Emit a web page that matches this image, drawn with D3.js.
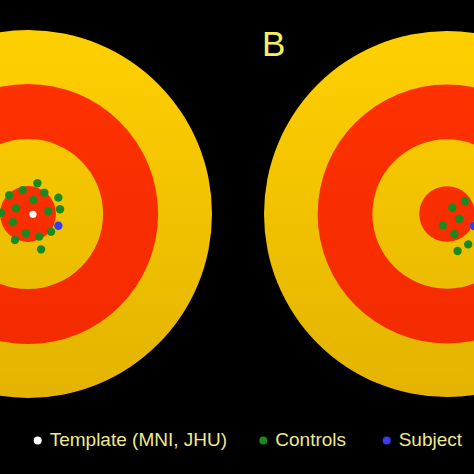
<!DOCTYPE html>
<html>
<head>
<meta charset="utf-8">
<script src="https://cdn.jsdelivr.net/npm/d3@7"></script>
<style>
  html, body { margin: 0; padding: 0; background: #000; }
  svg { display: block; }
</style>
</head>
<body>
<div id="chart"></div>
<script>
// Ring radii in target units (outer edge = 10), drawn outermost first
const ringRadii = [10, 7.07, 4.08, 1.52];
const ringColors = ['yellow', 'red', 'yellow', 'red'];

// Left target: offsets from the centre, target units (y up)
const leftControlsX = [0.51, -1.02, -0.29, 0.89, 1.65, 0.29, -0.65, 1.10, 1.74, -1.47, -0.83, -0.11, 0.61, 1.25, -0.71, 0.71];
const leftControlsY = [1.67, 1.02, 1.29, 1.16, 0.89, 0.76, 0.31, 0.16, 0.26, 0.07, -0.45, -1.05, -1.23, -0.96, -1.41, -1.92];
const leftSubject = [1.65, -0.64];
const leftTemplate = [0.27, -0.02];

// Right target
const rightControlsX = [0.98, 0.29, 0.66, -0.23, 0.40, 1.16, 0.58];
const rightControlsY = [0.71, 0.34, -0.26, -0.62, -1.11, -1.66, -2.02];
const rightSubject = [1.48, -0.66];

const legendLabels = ['Template (MNI, JHU)', 'Controls', 'Subject'];
const panelLabel = 'B';

const colors = {
    template: '#ffffff',
    controls: '#1b8a1e',
    subject: '#3a3cf2',
    text: '#efe98c'
};

const width = 474, height = 474;

const svg = d3.select('#chart')
    .append('svg')
    .attr('width', width)
    .attr('height', height);

svg.append('rect').attr('width', width).attr('height', height).attr('fill', '#000');

// vertical shading on the rings
const defs = svg.append('defs');
function grad(id, top, bottom) {
    const g = defs.append('linearGradient')
        .attr('id', id)
        .attr('gradientUnits', 'userSpaceOnUse')
        .attr('x1', 0).attr('y1', 30).attr('x2', 0).attr('y2', 400);
    g.append('stop').attr('offset', '0%').attr('stop-color', top);
    g.append('stop').attr('offset', '100%').attr('stop-color', bottom);
}
grad('yellow', '#ffd000', '#e3b300');
grad('red', '#ff3200', '#f22a00');

const targets = [
    { cx: 28, cy: 214, R: 184,
      controls: leftControlsX.map((x, i) => [x, leftControlsY[i]]),
      subject: leftSubject, template: leftTemplate },
    { cx: 447, cy: 214, R: 183,
      controls: rightControlsX.map((x, i) => [x, rightControlsY[i]]),
      subject: rightSubject, template: null }
];

targets.forEach(t => {
    const r = d3.scaleLinear().domain([0, 10]).range([0, t.R]);
    const x = d3.scaleLinear().domain([-10, 10]).range([t.cx - t.R, t.cx + t.R]);
    const y = d3.scaleLinear().domain([-10, 10]).range([t.cy + t.R, t.cy - t.R]);

    const g = svg.append('g');

    g.selectAll('circle.ring')
        .data(ringRadii)
        .enter()
        .append('circle')
        .attr('class', 'ring')
        .attr('cx', x(0))
        .attr('cy', y(0))
        .attr('r', d => r(d))
        .attr('fill', (d, i) => `url(#${ringColors[i]})`);

    g.selectAll('circle.ctrl')
        .data(t.controls)
        .enter()
        .append('circle')
        .attr('class', 'ctrl')
        .attr('cx', d => x(d[0]))
        .attr('cy', d => y(d[1]))
        .attr('r', 4.2)
        .attr('fill', colors.controls);

    g.append('circle')
        .attr('cx', x(t.subject[0]))
        .attr('cy', y(t.subject[1]))
        .attr('r', 4.2)
        .attr('fill', colors.subject);

    if (t.template) {
        g.append('circle')
            .attr('cx', x(t.template[0]))
            .attr('cy', y(t.template[1]))
            .attr('r', 3.6)
            .attr('fill', colors.template);
    }
});

// panel letter
svg.append('text')
    .attr('x', 262)
    .attr('y', 56)
    .attr('fill', '#f7f066')
    .style('font-family', '"Liberation Sans", Arial, sans-serif')
    .style('font-size', '35px')
    .text(panelLabel);

// legend
const legendDotX = [37.7, 263.3, 386.7];
const legendColors = [colors.template, colors.controls, colors.subject];

const legend = svg.append('g');
legend.selectAll('circle')
    .data(legendLabels)
    .enter()
    .append('circle')
    .attr('cx', (d, i) => legendDotX[i])
    .attr('cy', 440.5)
    .attr('r', 4)
    .attr('fill', (d, i) => legendColors[i]);

legend.selectAll('text')
    .data(legendLabels)
    .enter()
    .append('text')
    .attr('x', (d, i) => legendDotX[i] + 12)
    .attr('y', 446)
    .attr('fill', colors.text)
    .style('font-family', '"Liberation Sans", Arial, sans-serif')
    .style('font-size', '19px')
    .text(d => d);
</script>
</body>
</html>
